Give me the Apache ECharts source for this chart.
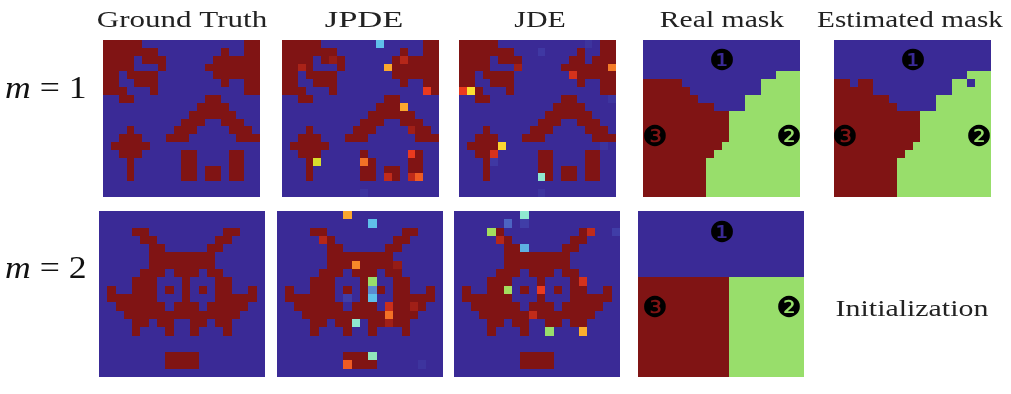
<!DOCTYPE html>
<html><head><meta charset="utf-8">
<style>html,body{margin:0;padding:0;background:#fff}#c{width:1011px;height:394px}</style>
<script src="https://cdn.jsdelivr.net/npm/echarts@6/dist/echarts.min.js"></script>
</head><body><div id="c"></div>
<script>
// '.' background, '#' foreground
const truth1 = [
"#####.............##",
"#######........#..##",
"####.###......######",
"####...#.....#######",
"##.####.......######",
"##..###........#..##",
"###...#...........##",
"..##.........##.....",
"............####....",
"...........######...",
"..........###..###..",
"...#.....###....###.",
"..###...###......###",
".#####..............",
"..###.....##....##..",
"...#......##....##..",
"...#......##.##.##..",
"...#......##.##.##..",
"....................",
"...................."];
const truth2 = [
"....................",
"....................",
"....##.........##...",
".....##.......##....",
"......##.....##.....",
"......########......",
"......########......",
".....###.###.##.....",
"....###...#...##....",
".#..###.#.#.#.##..#.",
".######...#...#####.",
"..######.###.#####..",
"...##############...",
"....##.##..##.##....",
"....#...#..#...#....",
"....................",
"....................",
"........####........",
"........####........",
"...................."];
// mask rows: B blue, R red, G green
const realMask1 = [
"BBBBBBBBBBBBBBBBBBBB","BBBBBBBBBBBBBBBBBBBB","BBBBBBBBBBBBBBBBBBBB","BBBBBBBBBBBBBBBBBBBB",
"BBBBBBBBBBBBBBBBBGGG","RRRRRBBBBBBBBBBGGGGG","RRRRRRBBBBBBBBBGGGGG","RRRRRRRBBBBBBGGGGGGG",
"RRRRRRRRRBBBBGGGGGGG","RRRRRRRRRRRGGGGGGGGG","RRRRRRRRRRRGGGGGGGGG","RRRRRRRRRRRGGGGGGGGG",
"RRRRRRRRRRRGGGGGGGGG","RRRRRRRRRRGGGGGGGGGG","RRRRRRRRRGGGGGGGGGGG","RRRRRRRRGGGGGGGGGGGG",
"RRRRRRRRGGGGGGGGGGGG","RRRRRRRRGGGGGGGGGGGG","RRRRRRRRGGGGGGGGGGGG","RRRRRRRRGGGGGGGGGGGG"];
const estMask1 = [
"BBBBBBBBBBBBBBBBBBBB","BBBBBBBBBBBBBBBBBBBB","BBBBBBBBBBBBBBBBBBBB","BBBBBBBBBBBBBBBBBBBB",
"BBBBBBBBBBBBBBBBBGGG","RRBRRBBBBBBBBBBGGBGG","RRRRRBBBBBBBBBBGGGGG","RRRRRRRBBBBBBGGGGGGG",
"RRRRRRRRBBBBBGGGGGGG","RRRRRRRRRRRGGGGGGGGG","RRRRRRRRRRRGGGGGGGGG","RRRRRRRRRRRGGGGGGGGG",
"RRRRRRRRRRRGGGGGGGGG","RRRRRRRRRRGGGGGGGGGG","RRRRRRRRRGGGGGGGGGGG","RRRRRRRRGGGGGGGGGGGG",
"RRRRRRRRGGGGGGGGGGGG","RRRRRRRRGGGGGGGGGGGG","RRRRRRRRGGGGGGGGGGGG","RRRRRRRRGGGGGGGGGGGG"];
const realMask2 = [
"BBBBBBBBBBBBBBBBBBBB","BBBBBBBBBBBBBBBBBBBB","BBBBBBBBBBBBBBBBBBBB","BBBBBBBBBBBBBBBBBBBB",
"BBBBBBBBBBBBBBBBBBBB","BBBBBBBBBBBBBBBBBBBB","BBBBBBBBBBBBBBBBBBBB","BBBBBBBBBBBBBBBBBBBB",
"RRRRRRRRRRRGGGGGGGGG","RRRRRRRRRRRGGGGGGGGG","RRRRRRRRRRRGGGGGGGGG","RRRRRRRRRRRGGGGGGGGG",
"RRRRRRRRRRRGGGGGGGGG","RRRRRRRRRRRGGGGGGGGG","RRRRRRRRRRRGGGGGGGGG","RRRRRRRRRRRGGGGGGGGG",
"RRRRRRRRRRRGGGGGGGGG","RRRRRRRRRRRGGGGGGGGG","RRRRRRRRRRRGGGGGGGGG","RRRRRRRRRRRGGGGGGGGG"];
// estimated cells that differ from the truth: [col, row, value]
const jpdeNoise1 = [[12,0,.3],[13,3,.8],[15,2,.95],[6,2,.98],[2,3,.96],[18,6,.9],[15,8,.8],[16,11,.97],[4,15,.62],[10,15,.85],[11,14,0],[16,14,.9],[13,17,.94],[16,17,.94],[17,17,.87],[10,19,.02]];
const jdeNoise1 = [[0,6,.9],[1,6,.7],[19,3,.84],[14,4,.92],[7,3,.97],[16,2,0],[16,0,.02],[5,13,.72],[4,14,.92],[4,15,.03],[10,17,.4],[10,19,.02],[10,1,.03],[18,13,.02],[19,7,.02]];
const jpdeNoise2 = [[8,0,.8],[11,1,.3],[5,3,.95],[9,6,.83],[14,6,.98],[11,8,.5],[11,9,.2],[11,10,.3],[8,10,.04],[13,11,.93],[13,12,.85],[13,13,.97],[9,13,.4],[16,11,.97],[11,17,.42],[8,18,.87],[17,18,.02]];
const jdeNoise2 = [[8,0,.4],[8,1,.04],[6,1,.12],[4,2,.52],[5,3,.95],[16,2,.94],[19,2,.04],[8,4,.27],[15,8,.92],[6,9,.52],[10,9,.9],[9,12,.94],[11,14,.5],[15,14,.79]];
const colorStops = ["#3a2a96","#4a5ac0","#5a8ad0","#5fc0ea","#8fe8d0","#98de6b","#cfdc2c","#fbe032","#fba82e","#ea3a1e","#801414"];
const panels = [
 {left:103,top:40,size:157,rows:truth1},
 {left:282,top:40,size:157,rows:truth1,noise:jpdeNoise1},
 {left:459,top:40,size:157,rows:truth1,noise:jdeNoise1},
 {left:643,top:40,size:157,rows:realMask1},
 {left:834,top:40,size:157,rows:estMask1},
 {left:99,top:211,size:166,rows:truth2},
 {left:277,top:211,size:166,rows:truth2,noise:jpdeNoise2},
 {left:454,top:211,size:166,rows:truth2,noise:jdeNoise2},
 {left:638,top:211,size:166,rows:realMask2}
];
const columnTitles = [["Ground Truth",182,21,1.35],["JPDE",364,21,1.5],["JDE",540,21,1.3],["Real mask",722,21,1.29],["Estimated mask",910,21,1.27]];
const rowLabels = [["1",90],["2",270]];
// region marker glyphs: [glyph, x, y]
const markers = [["❶",722,62],["❷",789,138],["❸",655,138],["❶",913,62],["❷",979,138],["❸",845,138],["❶",722,234],["❷",789,309],["❸",655,309]];
const idx = Array.from({length:20},(_,i)=>i);
const code = {'.':0,'#':1,'B':0,'R':1,'G':.5};
const chart = echarts.init(document.getElementById('c'),null,{renderer:'canvas'});
const grids=[],xA=[],yA=[],series=[];
function renderCell(params, api){
  const c = api.coord([api.value(0), api.value(1)]);
  const s = api.size([1,1]);
  const x0 = Math.round(c[0]-s[0]/2), x1 = Math.round(c[0]+s[0]/2);
  const y0 = Math.round(c[1]-s[1]/2), y1 = Math.round(c[1]+s[1]/2);
  return {type:'rect',shape:{x:x0,y:y0,width:x1-x0,height:y1-y0},style:{fill:api.visual('color')}};
}
panels.forEach((p,i)=>{
  grids.push({left:p.left,top:p.top,width:p.size,height:p.size});
  xA.push({type:'category',gridIndex:i,data:idx,show:false});
  yA.push({type:'category',gridIndex:i,data:idx,inverse:true,show:false});
  const over = new Map((p.noise||[]).map(n=>[n[0]+','+n[1],n[2]]));
  const d=[];
  p.rows.forEach((r,y)=>{for(let x=0;x<20;x++){const k=x+','+y;d.push([x,y,over.has(k)?over.get(k):code[r[x]]]);}});
  series.push({type:'custom',xAxisIndex:i,yAxisIndex:i,data:d,silent:true,renderItem:renderCell,encode:{x:0,y:1,tooltip:2}});
});
const serif='"Liberation Serif"';
const gfx=[];
columnTitles.forEach(t=>gfx.push({type:'text',x:t[1],y:t[2],scaleX:t[3],silent:true,style:{text:t[0],font:'23px '+serif,fill:'#222',align:'center',verticalAlign:'middle'}}));
rowLabels.forEach(t=>gfx.push({type:'text',x:5,y:t[1],scaleX:1.15,silent:true,style:{text:'{m|m} = '+t[0],fill:'#111',font:'31px '+serif,align:'left',verticalAlign:'middle',rich:{m:{font:'italic 31px '+serif,fill:'#111'}}}}));
gfx.push({type:'text',x:912,y:310,scaleX:1.3,silent:true,style:{text:'Initialization',font:'23px '+serif,fill:'#222',align:'center',verticalAlign:'middle'}});
markers.forEach(m=>gfx.push({type:'text',x:m[1],y:m[2],z:10,silent:true,style:{text:m[0],font:'29px "DejaVu Sans"',fill:'#000',align:'center',verticalAlign:'middle'}}));
chart.setOption({animation:false,backgroundColor:'#fff',grid:grids,xAxis:xA,yAxis:yA,
  visualMap:{show:false,min:0,max:1,dimension:2,seriesIndex:panels.map((_,i)=>i),inRange:{color:colorStops}},
  series:series,graphic:gfx});
</script></body></html>
